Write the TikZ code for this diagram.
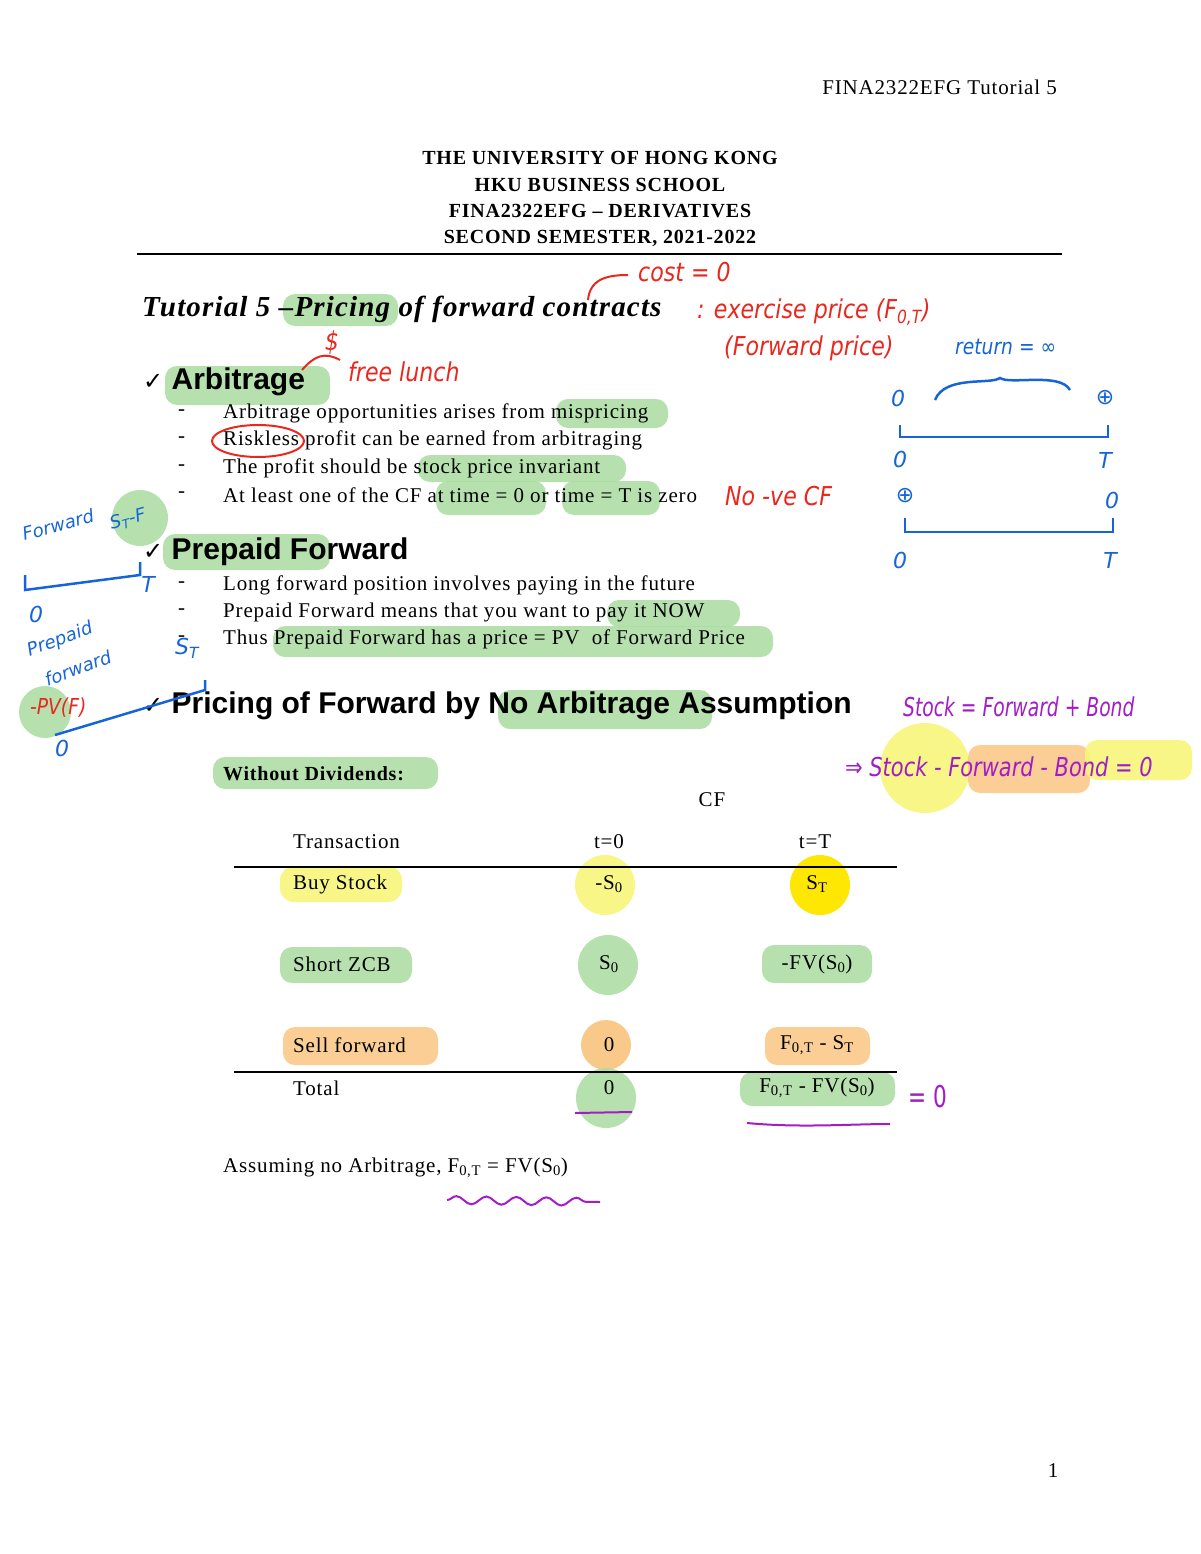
\documentclass[tikz,border=0pt]{standalone}
\usepackage{fontspec}
\setmainfont{Liberation Serif}[LetterSpace=4]
\newfontfamily\hsans{Liberation Sans}
\newfontfamily\hand{DejaVu Sans}
\usetikzlibrary{decorations.pathmorphing}
\definecolor{hlg}{HTML}{A9DCA0}
\definecolor{hly}{HTML}{F6F57A}
\definecolor{hlo}{HTML}{F9C98A}
\definecolor{pen}{HTML}{E8281E}
\definecolor{bpen}{HTML}{1565D8}
\definecolor{ppen}{HTML}{A21CC8}
\tikzset{
 body/.style={font=\fontsize{21}{22}\selectfont,inner sep=0pt},
 lft/.style={body,anchor=west},
 hd/.style={font=\fontsize{20}{20}\selectfont\bfseries,inner sep=0pt},
 sec/.style={font=\fontsize{30}{32}\selectfont\hsans\bfseries,anchor=west,inner sep=0pt},
 hg/.style={fill=hlg,rounded corners=12pt,opacity=.85},
 hy/.style={fill=hly,opacity=.9},
 ho/.style={fill=hlo,rounded corners=12pt,opacity=.9},
 red/.style={text=pen,font=\fontsize{26}{28}\selectfont\hand\itshape,inner sep=0pt,xscale=.85},
 blu/.style={text=bpen,font=\fontsize{22}{24}\selectfont\hand\itshape,inner sep=0pt},
 pur/.style={text=ppen,font=\fontsize{26}{28}\selectfont\hand\itshape,inner sep=0pt,xscale=.72},
 bl/.style={draw=bpen,line width=2.5pt},
}
\begin{document}
\begin{tikzpicture}[x=1pt,y=-1pt]
\useasboundingbox (0,0) rectangle (1200,1554);
% highlights
\fill[hg] (283,294) rectangle (398,326);
\fill[hg] (165,366) rectangle (330,405);
\fill[hg] (556,399) rectangle (668,428);
\fill[hg] (418,455) rectangle (626,482);
\fill[hg] (436,481) rectangle (546,515);
\fill[hg] (562,481) rectangle (660,515);
\fill[hlg,opacity=.85] (140,518) circle (28);
\fill[hg] (163,534) rectangle (330,570);
\fill[hg] (607,600) rectangle (740,627);
\fill[hg] (273,626) rectangle (773,657);
\fill[hlg,opacity=.85] (45,712) circle (26);
\fill[hg] (498,690) rectangle (712,729);
\fill[hg] (213,757) rectangle (438,789);
\fill[hly,opacity=.9] (925,768) circle (45);
\fill[ho] (968,745) rectangle (1090,793);
\fill[fill=hly,rounded corners=12pt,opacity=.9] (1085,740) rectangle (1192,780);
\fill[hy,rounded corners=14pt] (280,866) rectangle (402,902);
\fill[hy] (605,885) circle (30);
\fill[fill=yellow!90!orange] (820,885) circle (30);
\fill[hg] (280,947) rectangle (412,983);
\fill[hlg,opacity=.85] (608,965) circle (30);
\fill[hg] (762,945) rectangle (872,983);
\fill[ho] (283,1027) rectangle (438,1065);
\fill[hlo] (606,1045) circle (25);
\fill[ho] (765,1027) rectangle (870,1065);
\fill[hlg,opacity=.85] (606,1098) circle (30);
\fill[hg] (740,1072) rectangle (895,1106);
% header
\node[body,anchor=east] at (1057,87) {FINA2322EFG Tutorial 5};
\node[hd] (h1) at (600,158) {THE UNIVERSITY OF HONG KONG};
\node[hd] (h2) at (600,185) {HKU BUSINESS SCHOOL};
\node[hd] (h3) at (600,211) {FINA2322EFG -- DERIVATIVES};
\node[hd] (h4) at (600,238) {SECOND SEMESTER, 2021-2022};
\draw[line width=1.2pt] (137,254) -- (1062,254);
\node[anchor=west,inner sep=0pt,font=\fontsize{29}{30}\selectfont\bfseries\itshape] at (142,309) {Tutorial 5 --Pricing of forward contracts};
% section 1
\node[sec] at (143,382) {\hand\fontsize{24}{24}\selectfont ✓\hsans\fontsize{30}{32}\selectfont\bfseries\ Arbitrage};
\foreach \y/\t in {413/Arbitrage opportunities arises from mispricing,440/Riskless profit can be earned from arbitraging,468/The profit should be stock price invariant,495/At least one of the CF at time = 0 or time = T is zero}{
 \node[lft] at (178,\y) {-}; \node[lft] at (223,\y) {\t};}
\draw[pen,line width=2pt] (258,441) ellipse (46 and 16);
\node[sec] at (143,552) {\hand\fontsize{24}{24}\selectfont ✓\hsans\fontsize{30}{32}\selectfont\bfseries\ Prepaid Forward};
\foreach \y/\t in {585/Long forward position involves paying in the future,612/Prepaid Forward means that you want to pay it NOW,639/Thus Prepaid Forward has a price = PV \ of Forward Price}{
 \node[lft] at (178,\y) {-}; \node[lft] at (223,\y) {\t};}
\node[sec] at (143,706) {\hand\fontsize{24}{24}\selectfont ✓\hsans\fontsize{30}{32}\selectfont\bfseries\ Pricing of Forward by No Arbitrage Assumption};
\node[lft,font=\fontsize{20}{22}\selectfont\bfseries] at (223,774) {Without Dividends:};
% table
\node[body] at (712,800) {CF};
\node[lft] at (293,842) {Transaction};
\node[body] at (609,842) {t=0};
\node[body] at (815,842) {t=T};
\draw[line width=1.2pt] (234,867) -- (897,867);
\node[lft] at (293,884) {Buy Stock};
\node[body] at (609,884) {-S\textsubscript{0}};
\node[body] at (817,884) {S\textsubscript{T}};
\node[lft] at (293,964) {Short ZCB};
\node[body] at (609,964) {S\textsubscript{0}};
\node[body] at (817,964) {-FV(S\textsubscript{0})};
\node[lft] at (293,1045) {Sell forward};
\node[body] at (609,1045) {0};
\node[body] at (817,1045) {F\textsubscript{0,T} - S\textsubscript{T}};
\draw[line width=1.2pt] (234,1072) -- (897,1072);
\node[lft] at (293,1088) {Total};
\node[body] at (609,1088) {0};
\node[body] at (817,1088) {F\textsubscript{0,T} - FV(S\textsubscript{0})};
\node[lft] at (223,1168) {Assuming no Arbitrage, F\textsubscript{0,T} = FV(S\textsubscript{0})};
\node[body] at (1053,1471) {1};
% red annotations
\node[red,anchor=west] at (638,272) {cost = 0};
\draw[pen,line width=2pt] (588,300) .. controls (590,280) and (605,275) .. (628,275);
\node[red,anchor=west] at (697,312) {: exercise price (F\textsubscript{0,T})};
\node[red,anchor=west] at (724,348) {(Forward price)};
\node[red,anchor=west] at (348,372) {free lunch};
\node[red] at (332,343) {\$};
\draw[pen,line width=2pt] (302,370) .. controls (315,355) and (325,352) .. (340,360);
\node[red,anchor=west] at (725,496) {No -ve CF};
\node[red,anchor=west,font=\fontsize{22}{24}\selectfont\hand\itshape] at (30,708) {-PV(F)};
% blue annotations
\node[blu,anchor=west,xscale=.85] at (955,347) {return = ∞};
\draw[bpen,line width=2.5pt] (935,400) .. controls (945,375) and (990,385) .. (1000,378) .. controls (1010,385) and (1060,372) .. (1070,390);
\node[blu] (z1) at (898,398) {0};
\node[blu] (p1) at (1105,398) {⊕};
\draw[bl] (900,425) -- (900,437) -- (1108,437) -- (1108,425);
\node[blu] at (1105,460) {T};
\node[blu] at (900,459) {0};
\node[blu] at (905,496) {⊕};
\node[blu] at (1112,500) {0};
\draw[bl] (905,518) -- (905,532) -- (1113,532) -- (1113,518);
\node[blu] at (900,560) {0};
\node[blu] at (1110,560) {T};
\node[blu,rotate=15,font=\fontsize{18}{20}\selectfont\hand\itshape] at (58,525) {Forward};
\node[blu,rotate=15,font=\fontsize{18}{20}\selectfont\hand\itshape] at (128,520) {S\textsubscript{T}-F};
\draw[bl] (25,575) -- (25,590) -- (140,575) -- (140,562);
\node[blu] at (148,584) {T};
\node[blu] at (36,614) {0};
\node[blu,rotate=20,font=\fontsize{18}{20}\selectfont\hand\itshape] at (60,640) {Prepaid};
\node[blu,rotate=20,font=\fontsize{18}{20}\selectfont\hand\itshape] at (78,668) {forward};
\node[blu] at (187,648) {S\textsubscript{T}};
\draw[bl] (55,735) -- (205,690) -- (205,680);
\node[blu] at (62,748) {0};
% purple annotations
\node[pur,anchor=west] at (903,707) {Stock = Forward + Bond};
\node[pur,anchor=west,xscale=1.12] at (845,767) {⇒ Stock - Forward - Bond = 0};
\node[pur,anchor=west,font=\fontsize{30}{30}\selectfont\hand] at (908,1097) {= 0};
\draw[ppen,line width=2pt] (575,1113) -- (632,1112);
\draw[ppen,line width=2pt] (747,1123) .. controls (800,1128) and (850,1124) .. (890,1124);
\draw[ppen,line width=2pt,decorate,decoration={snake,amplitude=4pt,segment length=30pt}] (447,1200) -- (600,1202);
\end{tikzpicture}
\end{document}
